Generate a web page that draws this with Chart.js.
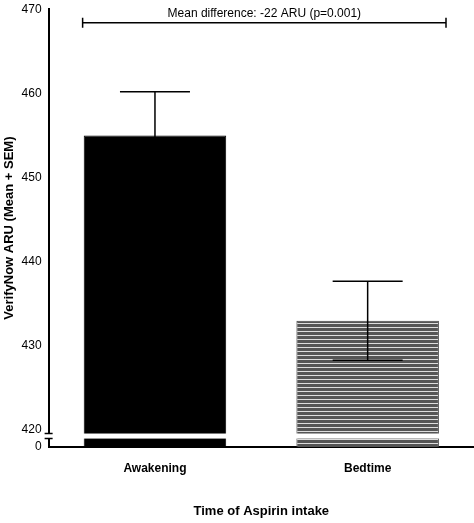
<!DOCTYPE html>
<html><head><meta charset="utf-8">
<script src="https://cdn.jsdelivr.net/npm/chart.js@4"></script>
<style>html,body{margin:0;background:#fff}#wrap{width:474px;height:523px}</style>
</head><body><div id="wrap"><canvas id="c"></canvas></div>
<script>
const categories = ['Awakening', 'Bedtime'];
const means = [455, 433];
const sems = [5.2, 4.7];
const yTicks = [418, 420, 430, 440, 450, 460, 470];
const bracketLabel = 'Mean difference: -22 ARU (p=0.001)';
const bracketValue = 468.4;

// striped fill for Bedtime
const pc = document.createElement('canvas');
pc.width = 4; pc.height = 4;
const px = pc.getContext('2d');
px.fillStyle = '#555'; px.fillRect(0, 0, 4, 3);
px.fillStyle = '#ddd'; px.fillRect(0, 3, 4, 1);
const stripes = px.createPattern(pc, 'repeat');

const extras = {
    id: 'extras',
    afterDatasetsDraw(chart) {
        const ctx = chart.ctx, y = chart.scales.y, x = chart.scales.x;
        const meta = chart.getDatasetMeta(0);
        ctx.save();
        // error bars
        ctx.strokeStyle = '#000'; ctx.lineWidth = 1.5;
        meta.data.forEach((bar, i) => {
            const top = y.getPixelForValue(means[i] + sems[i]);
            const bot = y.getPixelForValue(means[i] - sems[i]);
            ctx.beginPath();
            ctx.moveTo(bar.x, top); ctx.lineTo(bar.x, bot);
            ctx.moveTo(bar.x - 35, top); ctx.lineTo(bar.x + 35, top);
            ctx.moveTo(bar.x - 35, bot); ctx.lineTo(bar.x + 35, bot);
            ctx.stroke();
        });
        // axis break gap
        const g1 = y.getPixelForValue(419.6), g2 = y.getPixelForValue(419.0);
        ctx.fillStyle = '#fff';
        ctx.fillRect(x.left - 4, g1, chart.width, g2 - g1);
        ctx.beginPath();
        ctx.moveTo(x.left - 4, g1); ctx.lineTo(x.left + 4, g1);
        ctx.moveTo(x.left - 4, g2); ctx.lineTo(x.left + 4, g2);
        ctx.stroke();
        // bracket
        const by = y.getPixelForValue(bracketValue);
        const l = x.left + 34, r = x.right - 28;
        ctx.beginPath();
        ctx.moveTo(l, by); ctx.lineTo(r, by);
        ctx.moveTo(l, by - 5); ctx.lineTo(l, by + 5);
        ctx.moveTo(r, by - 5); ctx.lineTo(r, by + 5);
        ctx.stroke();
        ctx.font = '12px "Liberation Sans", Arial';
        ctx.fillStyle = '#000'; ctx.textAlign = 'center'; ctx.textBaseline = 'bottom';
        ctx.fillText(bracketLabel, (l + r) / 2, by - 3);
        ctx.restore();
    }
};

new Chart(document.getElementById('c'), {
    type: 'bar',
    data: {
        labels: categories,
        datasets: [{
            data: means,
            backgroundColor: ['#000', stripes],
            borderColor: ['#000', '#444'],
            borderWidth: 1,
            barPercentage: 0.67,
            categoryPercentage: 1
        }]
    },
    options: {
        responsive: true, maintainAspectRatio: false, animation: false,
        layout: { padding: { top: 2, right: 0 } },
        plugins: { legend: { display: false }, tooltip: { enabled: false } },
        scales: {
            x: {
                grid: { display: false, drawTicks: false },
                border: { color: '#000', width: 2 },
                ticks: { color: '#000', padding: 14, font: { family: '"Liberation Sans", Arial', size: 12, weight: 'bold' } },
                title: { display: true, text: 'Time of Aspirin intake', color: '#000', padding: { top: 14 }, font: { family: '"Liberation Sans", Arial', size: 13, weight: 'bold' } }
            },
            y: {
                min: 418, max: 470,
                afterBuildTicks: s => { s.ticks = yTicks.map(v => ({ value: v })); },
                grid: { display: false, drawTicks: true, tickLength: 5, tickColor: '#000' },
                border: { color: '#000', width: 2 },
                ticks: { color: '#000', padding: 2, font: { family: '"Liberation Sans", Arial', size: 12 },
                    callback: v => v === 418 ? '0' : v },
                title: { display: true, text: 'VerifyNow ARU (Mean + SEM)', color: '#000', padding: 2, font: { family: '"Liberation Sans", Arial', size: 13, weight: 'bold' } }
            }
        }
    },
    plugins: [extras]
});
</script></body></html>
